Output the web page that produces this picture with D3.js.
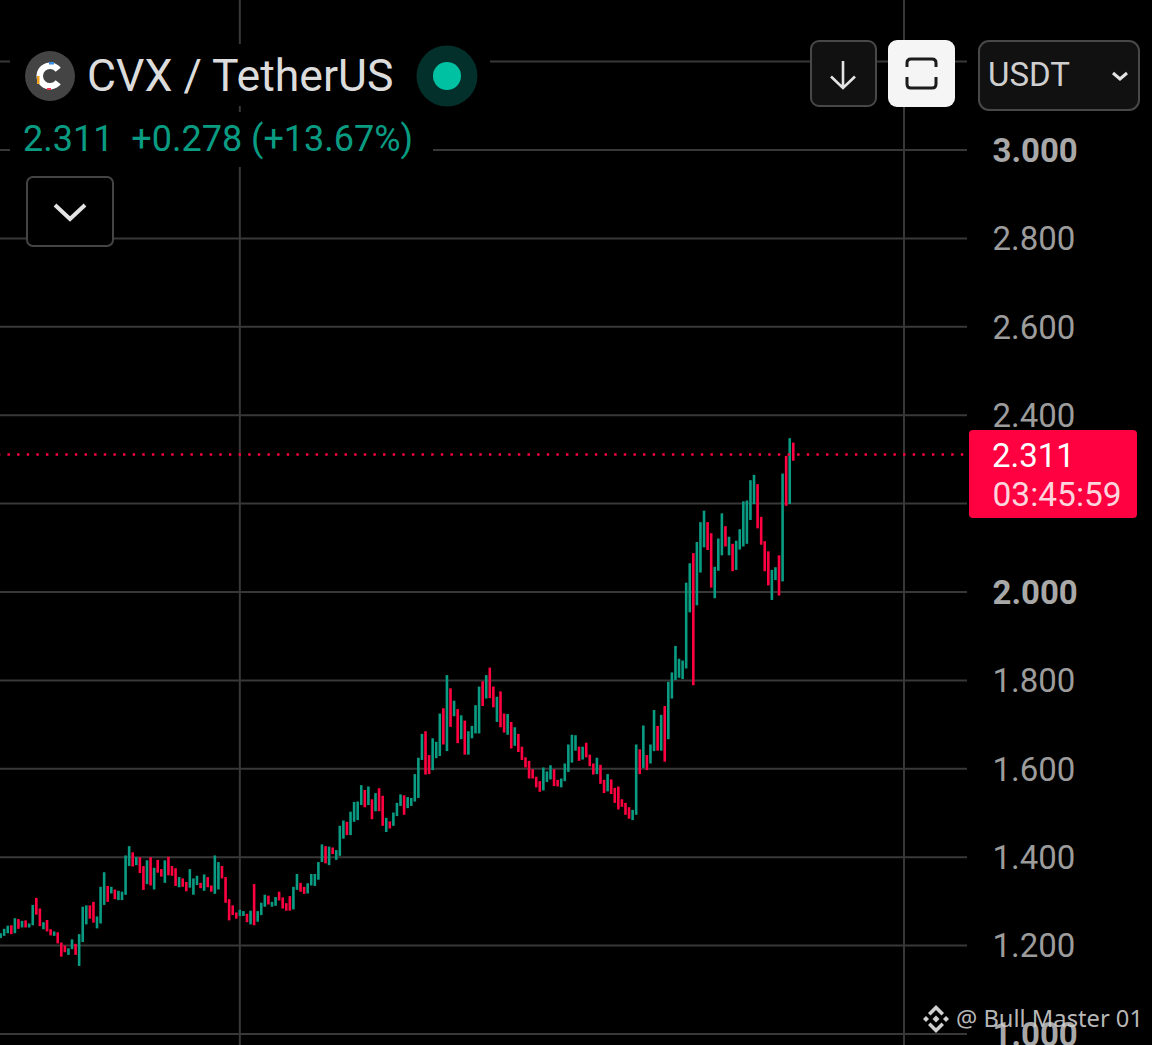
<!DOCTYPE html>
<html>
<head>
<meta charset="utf-8">
<script src="https://cdn.jsdelivr.net/npm/d3@7"></script>
<style>
  html, body { margin: 0; padding: 0; background: #000; overflow: hidden; }
  svg { display: block; font-family: Roboto, sans-serif; }
</style>
</head>
<body>
<div id="chart"></div>
<script>
// bar highs, left to right
const highs = [
  1.228,1.238,1.245,1.246,1.262,1.260,1.256,1.257,1.250,1.292,
  1.308,1.284,1.253,1.258,1.237,1.232,1.230,1.207,1.200,1.194,
  1.214,1.204,1.226,1.288,1.291,1.291,1.299,1.266,1.333,1.366,
  1.335,1.333,1.327,1.324,1.322,1.404,1.425,1.411,1.400,1.400,
  1.380,1.393,1.400,1.376,1.394,1.373,1.393,1.401,1.380,1.375,
  1.355,1.352,1.344,1.373,1.352,1.358,1.342,1.361,1.355,1.336,
  1.404,1.389,1.380,1.355,1.305,1.291,1.275,1.281,1.278,1.272,
  1.279,1.339,1.278,1.297,1.315,1.313,1.299,1.310,1.322,1.309,
  1.296,1.312,1.333,1.362,1.342,1.333,1.341,1.362,1.362,1.389,
  1.429,1.425,1.424,1.422,1.416,1.471,1.483,1.480,1.503,1.525,
  1.526,1.563,1.552,1.560,1.531,1.545,1.556,1.539,1.489,1.481,
  1.501,1.523,1.542,1.540,1.536,1.534,1.588,1.625,1.679,1.685,
  1.631,1.669,1.661,1.725,1.737,1.812,1.782,1.754,1.735,1.721,
  1.709,1.685,1.697,1.744,1.786,1.798,1.812,1.829,1.786,1.763,
  1.775,1.725,1.724,1.706,1.694,1.679,1.650,1.626,1.618,1.599,
  1.582,1.572,1.603,1.594,1.608,1.599,1.575,1.578,1.612,1.655,
  1.677,1.676,1.650,1.650,1.659,1.632,1.612,1.625,1.609,1.575,
  1.588,1.576,1.557,1.560,1.531,1.523,1.513,1.507,1.655,1.644,
  1.698,1.631,1.655,1.733,1.697,1.722,1.742,1.797,1.818,1.878,
  1.849,1.845,2.021,2.065,2.088,2.113,2.158,2.184,2.158,2.133,
  2.057,2.121,2.178,2.149,2.125,2.109,2.116,2.142,2.205,2.207,
  2.253,2.265,2.244,2.170,2.115,2.092,2.050,2.056,2.083,2.268,
  2.308,2.348,2.338
];
// bar lows
const lows = [
  1.217,1.222,1.228,1.226,1.228,1.238,1.241,1.241,1.241,1.246,
  1.270,1.244,1.237,1.232,1.223,1.222,1.205,1.175,1.185,1.179,
  1.192,1.179,1.154,1.208,1.248,1.261,1.252,1.239,1.250,1.292,
  1.299,1.318,1.305,1.303,1.303,1.315,1.380,1.379,1.382,1.364,
  1.326,1.339,1.336,1.327,1.365,1.356,1.342,1.359,1.358,1.335,
  1.332,1.333,1.323,1.331,1.315,1.337,1.330,1.324,1.332,1.322,
  1.317,1.327,1.352,1.297,1.257,1.269,1.261,1.267,1.267,1.253,
  1.248,1.246,1.254,1.269,1.288,1.293,1.288,1.290,1.302,1.284,
  1.279,1.279,1.282,1.326,1.322,1.317,1.318,1.336,1.335,1.349,
  1.389,1.386,1.382,1.407,1.394,1.403,1.442,1.450,1.450,1.480,
  1.484,1.518,1.513,1.518,1.486,1.504,1.504,1.471,1.457,1.465,
  1.471,1.493,1.516,1.496,1.511,1.516,1.526,1.534,1.620,1.587,
  1.588,1.597,1.624,1.629,1.655,1.640,1.695,1.719,1.658,1.667,
  1.632,1.632,1.669,1.680,1.680,1.742,1.759,1.760,1.739,1.706,
  1.694,1.682,1.677,1.646,1.652,1.638,1.620,1.603,1.578,1.578,
  1.558,1.548,1.551,1.570,1.576,1.561,1.560,1.558,1.572,1.593,
  1.614,1.641,1.618,1.621,1.626,1.606,1.587,1.588,1.566,1.545,
  1.549,1.543,1.523,1.508,1.514,1.496,1.487,1.484,1.496,1.588,
  1.602,1.597,1.612,1.640,1.641,1.641,1.616,1.667,1.759,1.801,
  1.806,1.803,1.827,1.954,1.789,1.970,2.044,2.101,2.095,2.010,
  1.986,2.048,2.083,2.103,2.083,2.047,2.050,2.096,2.103,2.109,
  2.163,2.199,2.144,2.107,2.047,2.015,1.982,2.027,1.992,2.024,
  2.195,2.199,2.297
];
// 1 = green bar, 0 = red bar
const isUp = [
  1,1,1,0,1,0,1,0,1,1, 0,0,1,0,0,1,0,0,0,1,
  1,0,1,1,1,0,0,1,1,1, 0,1,0,1,1,1,1,0,1,0,
  0,1,0,1,0,0,1,0,0,0, 1,0,0,1,1,1,0,1,0,0,
  1,1,0,0,0,0,0,1,1,0, 1,0,1,1,1,0,1,1,0,0,
  0,0,1,1,0,0,1,1,1,1, 1,0,1,0,1,1,1,0,1,1,
  1,1,0,1,0,1,0,0,1,0, 1,1,1,0,1,1,1,1,1,0,
  0,1,1,1,0,1,0,1,0,1, 0,1,1,1,1,0,1,0,0,1,
  0,0,1,0,1,0,0,0,0,0, 0,0,1,1,1,0,0,1,1,1,
  1,1,0,1,0,0,0,1,0,0, 1,0,0,0,0,0,0,1,1,0,
  1,0,1,1,0,1,0,1,1,1, 1,1,1,1,0,1,1,1,0,0,
  1,1,1,0,1,0,1,1,1,1, 1,1,0,0,0,0,1,1,0,1,
  0,1,0
];
const gridPrices = [1.0,1.2,1.4,1.6,1.8,2.0,2.2,2.4,2.6,2.8,3.0,3.2];
const labelPrices = [1.0,1.2,1.4,1.6,1.8,2.0,2.4,2.6,2.8,3.0];
const boldPrices = [1.0,2.0,3.0];
const gridBars = [67,253];
const lastPrice = 2.311;

const width = 1152, height = 1045;
const green = "#0a9c83", red = "#ff0040", gridColor = "#383838";

const svg = d3.select("#chart").append("svg")
  .attr("width", width).attr("height", height)
  .attr("viewBox", [0, 0, width, height]);

svg.append("rect").attr("width", width).attr("height", height).attr("fill", "#000");

const x = d3.scaleLinear([0, highs.length - 1], [0.6, 793.3]);
const y = d3.scaleLinear([1, 3], [1034, 150]);

// grid
svg.append("g").selectAll("line").data(gridPrices).join("line")
  .attr("x1", 0).attr("x2", 967)
  .attr("y1", d => y(d)).attr("y2", d => y(d))
  .attr("stroke", gridColor).attr("stroke-width", 2);

svg.append("g").selectAll("line").data(gridBars).join("line")
  .attr("x1", d => x(d)).attr("x2", d => x(d))
  .attr("y1", 0).attr("y2", height)
  .attr("stroke", gridColor).attr("stroke-width", 2);

// price labels
const yAxis = svg.append("g")
  .attr("transform", "translate(967,0.8)")
  .call(d3.axisRight(y).tickValues(labelPrices).tickFormat(d3.format(".3f")).tickSize(0).tickPadding(25.5));
yAxis.select(".domain").remove();
yAxis.selectAll("text")
  .attr("fill", d => boldPrices.includes(d) ? "#a8a8a8" : "#9c9c9c")
  .style("font-family", "Roboto, sans-serif")
  .style("font-size", "33px")
  .style("font-weight", d => boldPrices.includes(d) ? 700 : 400);

// bars
svg.append("g").selectAll("rect").data(highs).join("rect")
  .attr("x", (d, i) => x(i) - 1.3)
  .attr("width", 2.6)
  .attr("y", d => y(d))
  .attr("height", (d, i) => y(lows[i]) - y(d))
  .attr("fill", (d, i) => isUp[i] ? green : red);

// last price line and tag
svg.append("line")
  .attr("x1", -2.15).attr("x2", 969)
  .attr("y1", y(lastPrice)).attr("y2", y(lastPrice))
  .attr("stroke", red).attr("stroke-width", 2.4)
  .attr("stroke-dasharray", "2.4 7.23");

svg.append("rect")
  .attr("x", 969).attr("y", 430).attr("width", 168).attr("height", 88)
  .attr("rx", 4).attr("fill", red);
svg.append("text").attr("x", 992).attr("y", 467)
  .attr("fill", "#fff").style("font-size", "33px").text(d3.format(".3f")(lastPrice));
svg.append("text").attr("x", 992.5).attr("y", 506)
  .attr("fill", "#ffd5dd").style("font-size", "33.5px").text("03:45:59");

// header backgrounds hide the grid behind the legend
svg.append("rect").attr("x", 10).attr("y", 44).attr("width", 480).attr("height", 62).attr("fill", "#000");
svg.append("rect").attr("x", 10).attr("y", 112).attr("width", 423).attr("height", 55).attr("fill", "#000");

// coin logo
const logo = svg.append("g").attr("transform", "translate(50,76)");
logo.append("circle").attr("r", 25).attr("fill", "#444");
logo.append("path")
  .attr("d", d3.arc()({ innerRadius: 7, outerRadius: 13.5, startAngle: Math.PI / 2 + 0.65, endAngle: Math.PI * 2.5 - 0.65 }))
  .attr("fill", "#fff");
logo.append("rect").attr("x", -13).attr("y", 0).attr("width", 2.5).attr("height", 8).attr("fill", "#f0a020");
logo.append("rect").attr("x", -1).attr("y", -14).attr("width", 5).attr("height", 2.5).attr("fill", "#3a8ee0");
logo.append("rect").attr("x", -3).attr("y", 12).attr("width", 4).attr("height", 2).attr("fill", "#e8384f");

svg.append("text").attr("x", 87).attr("y", 91)
  .attr("fill", "#dcdcdc").style("font-size", "44.6px").text("CVX / TetherUS");

svg.append("circle").attr("cx", 447).attr("cy", 76).attr("r", 30.5).attr("fill", "#04302b");
svg.append("circle").attr("cx", 447).attr("cy", 76).attr("r", 14).attr("fill", "#00c2a2");

svg.append("text").attr("x", 23).attr("y", 151)
  .attr("fill", green).style("font-size", "36px")
  .style("white-space", "pre").text("2.311  +0.278 (+13.67%)");

// collapse button
svg.append("rect").attr("x", 27).attr("y", 177).attr("width", 86).attr("height", 69)
  .attr("rx", 6).attr("fill", "#000").attr("stroke", "#444").attr("stroke-width", 2);
svg.append("path").attr("d", d3.line()([[55, 205], [70, 219], [85, 205]]))
  .attr("fill", "none").attr("stroke", "#e4e4e4").attr("stroke-width", 4);

// top right buttons
svg.append("rect").attr("x", 811).attr("y", 41).attr("width", 65).attr("height", 65)
  .attr("rx", 8).attr("fill", "#111").attr("stroke", "#484848").attr("stroke-width", 2);
svg.append("path").attr("d", "M843 61V88M831 76.5L843 88L855 76.5")
  .attr("fill", "none").attr("stroke", "#e4e4e4").attr("stroke-width", 2.6);

svg.append("rect").attr("x", 888).attr("y", 40).attr("width", 67).attr("height", 67)
  .attr("rx", 9).attr("fill", "#f5f5f5");
svg.append("path")
  .attr("d", "M907 67V63Q907 59 911 59H932Q936 59 936 63V67M907 77V84Q907 88 911 88H932Q936 88 936 84V77")
  .attr("fill", "none").attr("stroke", "#1c1c1c").attr("stroke-width", 3);

svg.append("rect").attr("x", 979).attr("y", 41).attr("width", 160).attr("height", 69)
  .attr("rx", 10).attr("fill", "#111").attr("stroke", "#484848").attr("stroke-width", 2);
svg.append("text").attr("x", 988).attr("y", 86)
  .attr("fill", "#cfcfcf").style("font-size", "33px").text("USDT");
svg.append("path").attr("d", d3.line()([[1113, 73], [1120, 79], [1127, 73]]))
  .attr("fill", "none").attr("stroke", "#e4e4e4").attr("stroke-width", 3);

// watermark
const mark = svg.append("g").attr("transform", "translate(936,1019)").attr("fill", "#d0d0d0");
mark.append("path").attr("d", "M0 -3.5L3.5 0L0 3.5L-3.5 0Z");
mark.append("path").attr("d", "M-13 0L-10 -3L-7 0L-10 3Z");
mark.append("path").attr("d", "M13 0L10 -3L7 0L10 3Z");
mark.append("path").attr("d", "M0 -14L8 -6L5.5 -3.5L0 -9L-5.5 -3.5L-8 -6Z");
mark.append("path").attr("d", "M0 14L8 6L5.5 3.5L0 9L-5.5 3.5L-8 6Z");

svg.append("text").attr("x", 956).attr("y", 1027)
  .attr("fill", "#d0d0d0").attr("fill-opacity", 0.9)
  .style("font-family", "'Noto Sans', sans-serif").style("font-size", "23.7px")
  .text("@ Bull Master 01");
</script>
</body>
</html>
